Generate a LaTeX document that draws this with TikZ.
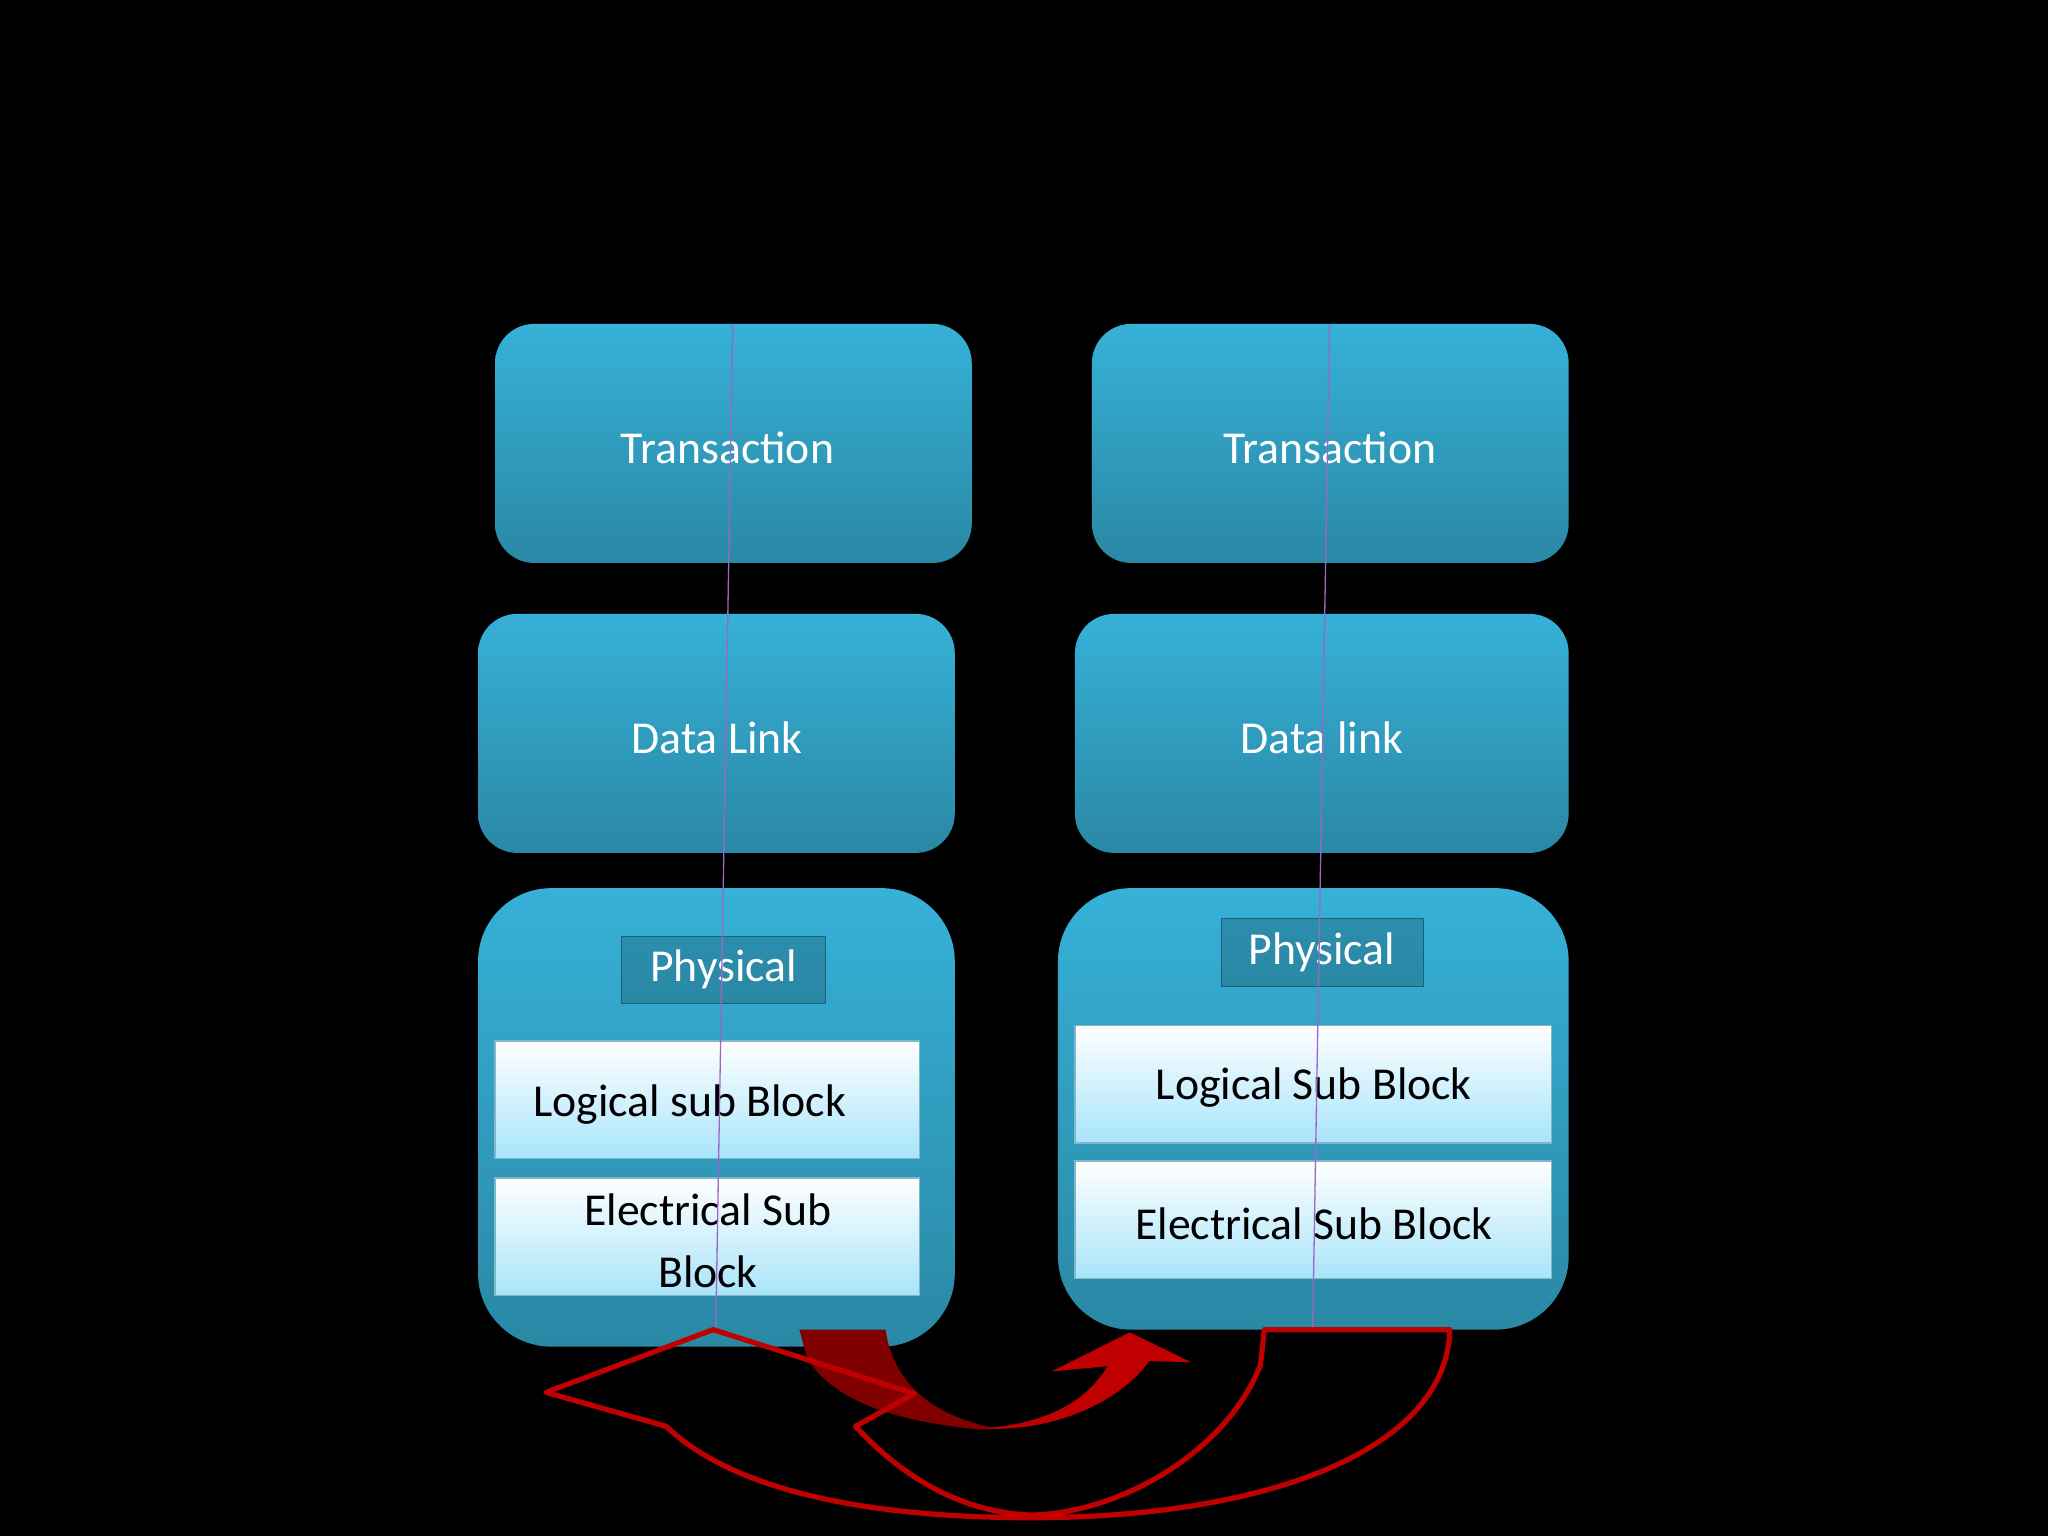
\documentclass[tikz,border=0pt]{standalone}
\usepackage{fontspec}
\setmainfont{Carlito}
\begin{document}
\begin{tikzpicture}[x=0.5pt,y=-0.5pt,
  layer/.style={rounded corners=15pt,top color=tealtop,bottom color=tealbot,draw=none,text=white,font=\fontsize{17.5}{20}\selectfont},
  phys/.style={rounded corners=28pt,top color=tealtop,bottom color=tealbot,draw=none},
  plabel/.style={top color=tealtop!80!black,bottom color=tealbot,draw=tealbot!70!black,line width=0.3pt,text=white,font=\fontsize{17.5}{20}\selectfont},
  sub/.style={top color=white,bottom color=lightb,draw=tealbot!60!white,line width=0.6pt,text=black,font=\fontsize{17.5}{21}\selectfont,align=center},
  vline/.style={draw=violet!70!blue!60,line width=0.5pt},
  outl/.style={draw=arrred,line width=2pt,line join=round}]
\definecolor{tealtop}{HTML}{36B1D8}
\definecolor{tealbot}{HTML}{2A88A4}
\definecolor{lightb}{HTML}{A8E4FA}
\definecolor{arrred}{HTML}{C00000}
\definecolor{darkred}{HTML}{800000}
\fill[black] (0,0) rectangle (1568,1176);
\useasboundingbox (0,0) rectangle (1568,1176);
% left stack
\path[layer] (379,248) rectangle (744,431);
\node (t1) at (557,343) [text=white,font=\fontsize{17.5}{20}\selectfont] {Transaction};
\path[layer] (366,470) rectangle (731,653);
\node (d1) at (549,565) [text=white,font=\fontsize{17.5}{20}\selectfont] {Data Link};
\path[phys] (366,680) rectangle (731,1031);
\path[plabel] (476,717) rectangle (632,768);
\node (p1) at (554,742) [text=white,font=\fontsize{17.5}{20}\selectfont] {Physical};
\path[sub] (379,797) rectangle (704,887);
\node (l1) at (528,846) [font=\fontsize{17.5}{20}\selectfont] {Logical sub Block};
\path[sub] (379,902) rectangle (704,992);
\node (e1) at (542,950) [align=center,font=\fontsize{17.5}{23.5}\selectfont] {Electrical Sub\\Block};
% right stack
\path[layer] (836,248) rectangle (1201,431);
\node (t2) at (1018,343) [text=white,font=\fontsize{17.5}{20}\selectfont] {Transaction};
\path[layer] (823,470) rectangle (1201,653);
\node (d2) at (1012,565) [text=white,font=\fontsize{17.5}{20}\selectfont] {Data link};
\path[phys] (810,680) rectangle (1201,1018);
\path[plabel] (935,703) rectangle (1090,755);
\node (p2) at (1012,729) [text=white,font=\fontsize{17.5}{20}\selectfont] {Physical};
\path[sub] (823,785) rectangle (1188,875);
\node (l2) at (1006,833) [font=\fontsize{17.5}{20}\selectfont] {Logical Sub Block};
\path[sub] (823,889) rectangle (1188,979);
\node (e2) at (1006,937) [font=\fontsize{17.5}{20}\selectfont] {Electrical Sub Block};
% thin vertical lines
\coordinate (a1) at (561,248); \coordinate (b1) at (548,1018);
\coordinate (a2) at (1018,248); \coordinate (b2) at (1005,1018);
\draw[vline] (a1) -- (b1);
\draw[vline] (a2) -- (b2);
% dark red filled tail
\fill[darkred] (612,1018) -- (678,1018) .. controls (684,1060) and (715,1085) .. (765,1094)
  -- (745,1094) .. controls (690,1088) and (640,1075) .. (618,1040) -- cycle;
% bright red head
\fill[arrred] (760,1094) .. controls (815,1094) and (860,1070) .. (880,1042)
  -- (912,1043) -- (865,1020) -- (805,1050) -- (848,1046)
  .. controls (830,1075) and (800,1090) .. (750,1094) -- cycle;
% outline arrow
\draw[outl] (546,1018) -- (700,1067) -- (655,1092)
  .. controls (690,1130) and (735,1158) .. (790,1160)
  .. controls (860,1158) and (940,1110) .. (965,1045) -- (968,1018) -- (1110,1018)
  .. controls (1108,1110) and (970,1162) .. (790,1162)
  .. controls (660,1162) and (560,1140) .. (510,1092)
  -- (418,1066) -- cycle;
\end{tikzpicture}
\end{document}
